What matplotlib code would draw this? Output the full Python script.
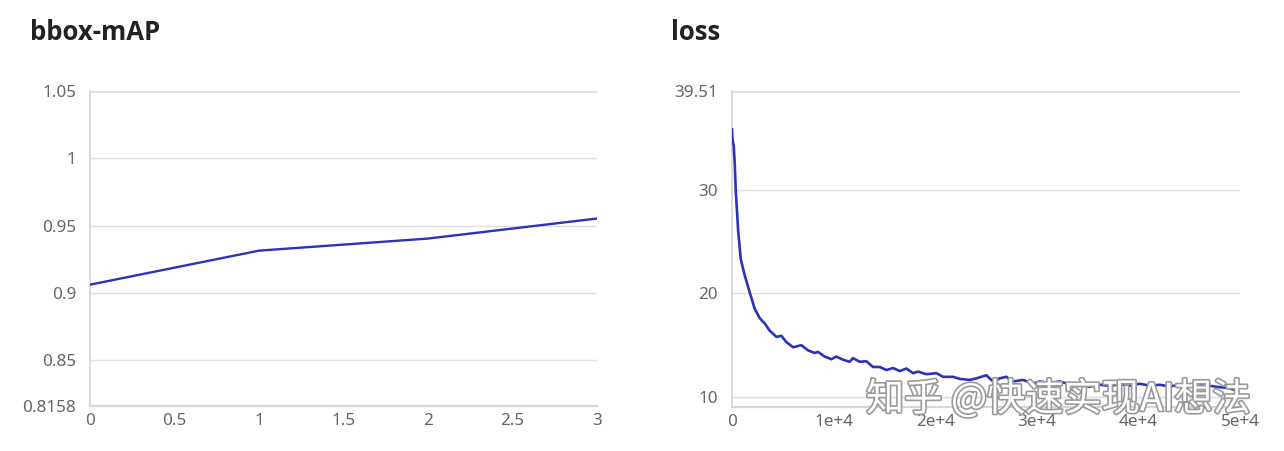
import numpy as np
import matplotlib
matplotlib.use('Agg')
import matplotlib.pyplot as plt
import matplotlib.patheffects as pe

plt.rcParams['font.family'] = ['Noto Sans', 'DejaVu Sans']

# bbox-mAP per epoch
map_epoch = [0, 1, 2, 3]
map_value = [0.906, 0.9313, 0.9403, 0.9552]

# loss vs step
loss_step = [0, 40, 170, 270, 370, 600, 860, 1260, 1740, 2240, 2730, 3220, 3710,
             4370, 4860, 5350, 6010, 6830, 7480, 8140, 8470, 9120, 9780, 10270,
             10930, 11580, 11910, 12570, 13230, 13880, 14540, 15200, 15850, 16510,
             17170, 17820, 18320, 19130, 20120, 20770, 21760, 22420, 23400, 24060,
             25040, 25690, 26350, 27010, 27660, 28640, 29630, 30280, 31260, 32250,
             33230, 34220, 35210, 36190, 37180, 38160, 39150, 40130, 41120, 42100,
             43090, 44070, 45060, 46040, 47030, 48010, 49000, 49500]
loss_value = [35.8, 34.9, 34.2, 32.5, 29.9, 26.1, 23.3, 21.7, 20.1, 18.5, 17.6, 17.1, 16.4,
              15.8, 15.9, 15.3, 14.8, 15.0, 14.5, 14.25, 14.35, 13.9, 13.65, 13.9,
              13.6, 13.4, 13.75, 13.4, 13.45, 12.9, 12.9, 12.6, 12.8, 12.5,
              12.75, 12.3, 12.45, 12.2, 12.3, 11.95, 11.95, 11.75, 11.65, 11.8,
              12.1, 11.5, 11.8, 11.95, 11.5, 11.65, 11.3, 11.5, 11.35, 11.5,
              11.24, 11.15, 11.0, 11.2, 11.05, 11.25, 11.1, 11.28, 11.1, 11.18,
              11.02, 11.18, 11.1, 11.25, 11.08, 10.95, 10.85, 10.65]

map_ticks = [0.8158, 0.85, 0.9, 0.95, 1, 1.05]
map_ticklabels = ['0.8158', '0.85', '0.9', '0.95', '1', '1.05']
map_xticks = [0, 0.5, 1, 1.5, 2, 2.5, 3]
map_xticklabels = ['0', '0.5', '1', '1.5', '2', '2.5', '3']
loss_ticks = [10, 20, 30, 39.51]
loss_ticklabels = ['10', '20', '30', '39.51']
loss_xticks = [0, 10000, 20000, 30000, 40000, 50000]
loss_xticklabels = ['0', '1e+4', '2e+4', '3e+4', '4e+4', '5e+4']

line_c = '#2b34b8'
grid_c = '#e0e0e0'
tick_c = '#666666'

fig = plt.figure(figsize=(12.84, 4.51), dpi=100)


def style(ax, yticks, yticklabels, xticks, xticklabels):
    for s in ['top', 'right']:
        ax.spines[s].set_visible(False)
    ax.spines['left'].set_color('#d6d6d6')
    ax.spines['bottom'].set_color('#d6d6d6')
    ax.spines['left'].set_linewidth(1.2)
    ax.spines['bottom'].set_linewidth(1.6)
    ax.set_yticks(yticks)
    ax.set_yticklabels(yticklabels)
    ax.set_xticks(xticks)
    ax.set_xticklabels(xticklabels)
    ax.tick_params(axis='y', length=0, pad=10, labelsize=12.3, labelcolor=tick_c)
    ax.tick_params(axis='x', length=0, pad=5, labelsize=12.3, labelcolor=tick_c)
    for t in yticks[1:]:
        ax.axhline(t, color=grid_c, lw=1.0, zorder=0)
    ax.axhline(yticks[-1], color='#dcdcdc', lw=1.8, zorder=0)


ax1 = fig.add_axes([0.0701, 0.0998, 0.3949, 0.6984])
ax1.plot(map_epoch, map_value, color=line_c, lw=1.7, zorder=3)
ax1.set_xlim(0, 3)
ax1.set_ylim(0.8158, 1.05)
style(ax1, map_ticks, map_ticklabels, map_xticks, map_xticklabels)
fig.text(30 / 1284, 1 - 33 / 451, 'bbox-mAP', fontsize=18.5, fontweight='bold',
         family=['Open Sans', 'DejaVu Sans'], color='#222222', va='center', ha='left')

ax2 = fig.add_axes([0.5701, 0.0976, 0.3956, 0.7006])
ax2.plot(loss_step, loss_value, color=line_c, lw=1.9, zorder=3)
ax2.set_xlim(0, 50000)
ax2.set_ylim(9.04, 39.51)
style(ax2, [9.04] + loss_ticks, [''] + loss_ticklabels, loss_xticks, loss_xticklabels)
ax2.axhline(10, color=grid_c, lw=1.0, zorder=0)
fig.text(671 / 1284, 1 - 33 / 451, 'loss', fontsize=18.5, fontweight='bold',
         family=['Open Sans', 'DejaVu Sans'], color='#222222', va='center', ha='left')

# watermark
fig.text(866 / 1284, 1 - 400 / 451, '知乎 @快速实现AI想法', fontsize=27.5,
         family=['Noto Sans CJK SC', 'DejaVu Sans'], color='white', va='center', ha='left',
         path_effects=[pe.withStroke(linewidth=2.4, foreground='#9a9a9a')], zorder=10)

fig.savefig('out.png', dpi=100)
